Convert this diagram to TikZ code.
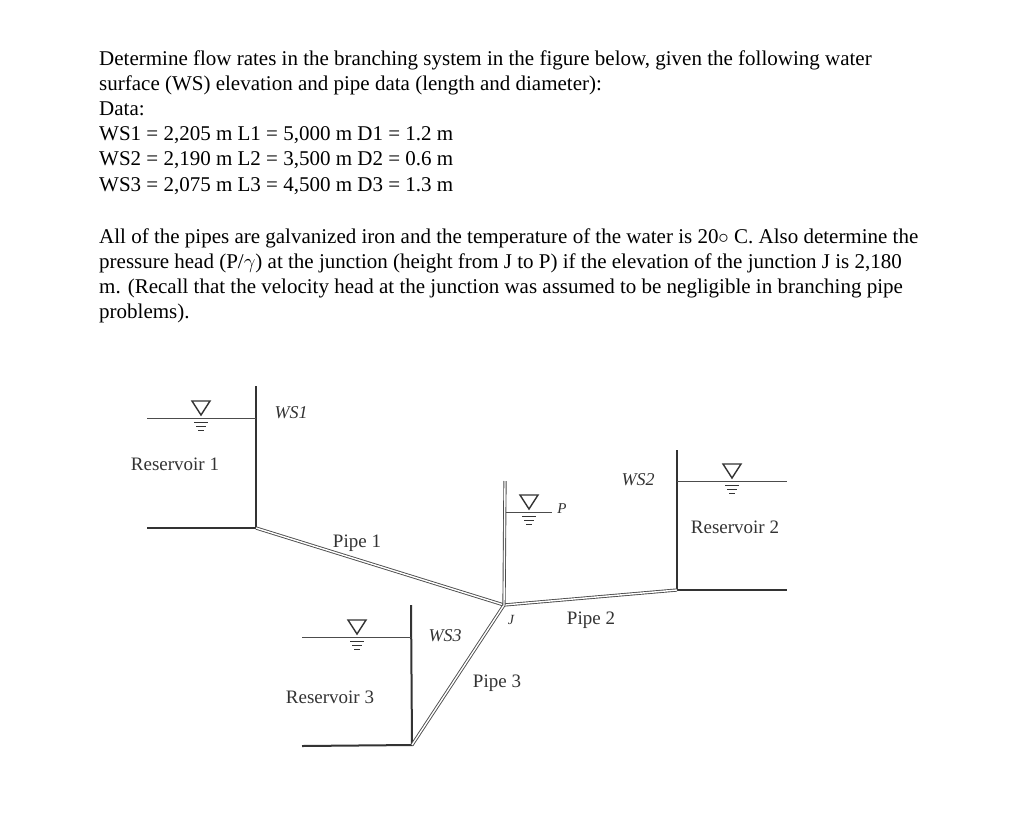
\documentclass[tikz,border=0pt]{standalone}
\usepackage{fontspec}
\setmainfont{Liberation Serif}
\begin{document}
\begin{tikzpicture}[x=1pt,y=-1pt,
  txt/.style={anchor=base west,inner sep=0pt,font=\fontsize{21}{21}\selectfont},
  lab/.style={inner sep=0pt,font=\fontsize{19}{19}\selectfont,text=black!80},
  ilab/.style={inner sep=0pt,font=\fontsize{18}{18}\selectfont\itshape,text=black!80},
  wall/.style={line width=2pt,black!80},
  wl/.style={line width=1pt,black!70},
  pipe/.style={double=white,double distance=1.4pt,line width=0.9pt,black!70}]
\useasboundingbox (0,0) rectangle (1024,828);
\newcommand{\wsym}[2]{%
 \draw[line width=1.4pt,black!80] (#1-9,#2-17)--(#1+9,#2-17)--(#1,#2-3)--cycle;
 \draw[line width=1pt,black!80] (#1-7,#2+4)--(#1+7,#2+4) (#1-5,#2+8)--(#1+5,#2+8) (#1-3,#2+12)--(#1+3,#2+12);}
\node[txt] (t1) at (99,65) {Determine flow rates in the branching system in the figure below, given the following water};
\node[txt] (t2) at (99,90) {surface (WS) elevation and pipe data (length and diameter):};
\node[txt] (t3) at (99,115) {Data:};
\node[txt] (t4) at (99,140) {WS1 = 2,205 m L1 = 5,000 m D1 = 1.2 m};
\node[txt] (t5) at (99,165) {WS2 = 2,190 m L2 = 3,500 m D2 = 0.6 m};
\node[txt] (t6) at (99,191) {WS3 = 2,075 m L3 = 4,500 m D3 = 1.3 m};
\node[txt] (t7) at (99,243) {All of the pipes are galvanized iron and the temperature of the water is 20$\circ$ C. Also determine the};
\node[txt] (t8) at (99,268) {pressure head (P/$\gamma$) at the junction (height from J to P) if the elevation of the junction J is 2,180};
\node[txt] (t9) at (99,293) {m. (Recall that the velocity head at the junction was assumed to be negligible in branching pipe};
\node[txt] (t10) at (99,318) {problems).};
\coordinate (J) at (504,605);
\coordinate (R1) at (256,528);
\coordinate (R2) at (677,590);
\coordinate (R3) at (412,745);
\draw[wall] (256,386)--(R1)--(147,528);
\draw[wl] (147,418)--(256,418);
\wsym{201}{418}
\draw[wall] (677,450)--(R2)--(787,590);
\draw[wl] (677,481)--(787,481);
\wsym{732}{481}
\draw[wall] (411,605)--(R3)--(302,746);
\draw[wl] (302,637)--(411,637);
\wsym{357}{637}
\draw[pipe] (R1)--(J);
\draw[pipe] (J)--(R2);
\draw[pipe] (J)--(R3);
\draw[pipe] (J)--(505,481);
\draw[wl] (506,512)--(552,512);
\wsym{529}{512}
\node[ilab] (ws1) at (291,413) {WS1};
\node[lab] (r1) at (175,464) {Reservoir 1};
\node[lab] (p1) at (357,543) {Pipe 1};
\node[ilab,font=\fontsize{15}{15}\selectfont\itshape] (pp) at (562,509) {P};
\node[ilab,font=\fontsize{14}{14}\selectfont\itshape] (jj) at (511,620) {J};
\node[ilab] (ws2) at (638,480) {WS2};
\node[lab] (r2) at (735,527) {Reservoir 2};
\node[lab] (p2) at (591,620) {Pipe 2};
\node[ilab] (ws3) at (445,636) {WS3};
\node[lab] (r3) at (330,697) {Reservoir 3};
\node[lab] (p3) at (497,683) {Pipe 3};
\end{tikzpicture}
\end{document}
